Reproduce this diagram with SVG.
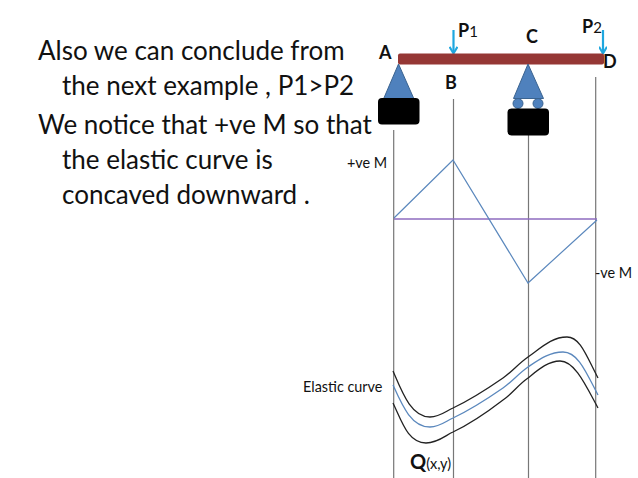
<svg xmlns="http://www.w3.org/2000/svg" width="638" height="478" viewBox="0 0 638 478">
<defs><marker id="ah" viewBox="0 0 10 10" refX="8" refY="5" markerWidth="4" markerHeight="4" orient="auto"><path d="M1 0.5L8.500 5L1 9.500" fill="none" stroke="#1fa7df" stroke-width="2.4"/></marker></defs>
<style>
text{font-family:Lato,"Open Sans","Liberation Sans",sans-serif;fill:#111}
.b{font-size:26px}
.l{font-weight:700;font-size:18px}
.s{font-size:14.400px}
.v{stroke:#777;stroke-width:1.2;fill:none}
.k{stroke:#222;stroke-width:1.3;fill:none}
.t{fill:#4f81bd;stroke:#3a6390;stroke-width:1}
.a{stroke:#1fa7df;stroke-width:2.200;fill:none;marker-end:url(#ah)}
</style>
<rect width="638" height="478" fill="#fff"/>
<g id="body-text">
<text class="b" x="38" y="60">Also we can conclude from</text>
<text class="b" x="62" y="95">the next example , P1&gt;P2</text>
<text class="b" x="38" y="134">We notice that +ve M so that</text>
<text class="b" x="62" y="169">the elastic curve is</text>
<text class="b" x="62" y="204">concaved downward .</text>
</g>
<g id="connectors">
<path class="v" d="M393.700 130V478M453.500 99V478M528.500 135V478M595.700 77V478"/>
<path class="a" d="M453.500 30V53"/>
<path class="a" d="M603 30V53"/>
</g>
<g id="beam"><rect x="398" y="53.500" width="206" height="11" rx="2" fill="#953735"/></g>
<g id="support-a">
<path class="t" d="M398.500 64L383.500 99H414Z"/>
<rect x="378" y="98" width="41.500" height="26.500" rx="4" fill="#000"/>
</g>
<g id="support-c">
<path class="t" d="M528 64L513.500 98.500H543.500Z"/>
<circle class="t" cx="518" cy="103.500" r="5"/>
<circle class="t" cx="538" cy="103.500" r="5"/>
<rect x="507.500" y="108.500" width="41.500" height="27" rx="4" fill="#000"/>
</g>
<g id="moment-diagram">
<path d="M394 219H597" stroke="#8e6bbf" stroke-width="1.6" fill="none"/>
<path d="M394 218L453 160L528 283L597 220" stroke="#5b88bd" stroke-width="1.200" fill="none"/>
</g>
<g id="elastic-curve">
<path class="k" d="M393 371C402 392 411 417 430 417C440 417 446 411 453 408C470 400 490 387 503 378C513 371 518 364 528 357C542 347 552 337 567 337C580 337 586 355 598 378"/>
<path d="M393 385C402 405 411 427 430 427C440 427 446 421 453 418C470 410 490 397 503 388C513 381 518 374 528 367C540 359 550 352 563 352C578 352 586 372 598 395" fill="none" stroke="#5b88bd" stroke-width="1.300"/>
<path class="k" d="M393 403C402 422 408 443 426 443C438 443 446 435 453 432C470 424 490 410 503 400C513 393 518 385 528 378C538 370 548 361 560 361C575 361 586 386 598 408"/>
</g>
<g id="labels">
<text class="l" x="379" y="59">A</text>
<text class="l" x="445" y="89">B</text>
<text class="l" x="526" y="43">C</text>
<text class="l" x="603" y="68">D</text>
<text class="l" x="458" y="37">P<tspan font-weight="400" font-size="15">1</tspan></text>
<text class="l" x="582" y="33">P<tspan font-weight="400" font-size="15">2</tspan></text>
<text class="s" x="347" y="168">+ve M</text>
<text class="s" x="595" y="278">-ve M</text>
<text class="s" x="303" y="392">Elastic curve</text>
<text x="410" y="469" font-size="20" font-weight="700">Q<tspan font-size="14.500" font-weight="400">(x,y)</tspan></text>
</g>
</svg>
